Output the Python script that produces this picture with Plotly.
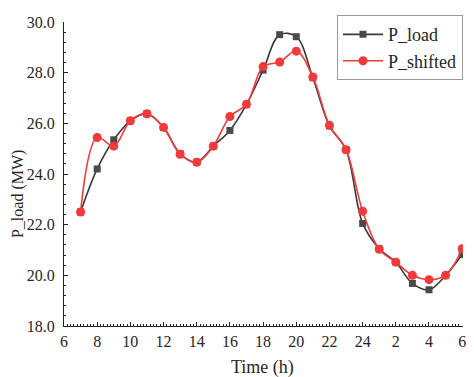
import plotly.graph_objects as go

hours = list(range(7, 31))
p_load = [22.5, 24.2, 25.35, 26.1, 26.38, 25.84, 24.8, 24.47, 25.1, 25.72, 26.75, 28.1,
          29.5, 29.42, 27.8, 25.9, 24.95, 22.05, 21.05, 20.52, 19.68, 19.43, 20.0, 20.82]
p_shifted = [22.5, 25.44, 25.1, 26.1, 26.38, 25.84, 24.78, 24.46, 25.1, 26.27, 26.75, 28.24,
             28.42, 28.85, 27.83, 25.92, 24.96, 22.53, 21.03, 20.52, 20.0, 19.83, 20.0, 21.05]
tick_vals = list(range(6, 31, 2))
tick_text = ["6", "8", "10", "12", "14", "16", "18", "20", "22", "24", "2", "4", "6"]
x_title = "Time (h)"
y_title = "P_load (MW)"

FONT = "Liberation Serif"
TXT = "#262626"
AX = "#222222"

W, H = 466, 369
L, R, T, B = 56, 11, 7, 51
PW, PH = W - L - R, H - T - B

fig = go.Figure()
fig.add_trace(go.Scatter(
    x=hours, y=p_load, name="P_load", mode="lines+markers",
    line=dict(color="#3a3a3a", width=1.6, shape="spline"),
    marker=dict(symbol="square", size=7, color="#4a4a4a"),
))
fig.add_trace(go.Scatter(
    x=hours, y=p_shifted, name="P_shifted", mode="lines+markers",
    line=dict(color="#f23a3a", width=1.6, shape="spline"),
    marker=dict(symbol="circle", size=9, color="#f23a3a"),
))

fig.update_layout(
    width=W, height=H,
    margin=dict(l=L, r=R, t=T, b=B),
    plot_bgcolor="white", paper_bgcolor="white",
    font=dict(family=FONT, size=16, color=TXT),
    showlegend=True,
    legend=dict(
        x=1.0, y=1.0 + T / PH, xanchor="right", yanchor="top",
        bordercolor="#9a9a9a", borderwidth=1, bgcolor="white",
        font=dict(family=FONT, size=18, color=TXT),
        tracegroupgap=0, itemwidth=40,
    ),
    xaxis=dict(
        range=[6, 30.05], tickmode="array", tickvals=tick_vals, ticktext=tick_text,
        showgrid=False, zeroline=False, showline=True, linecolor=AX, linewidth=1.2,
        ticks="inside", ticklen=4, tickcolor=AX, automargin=False,
        ticklabeloverflow="allow", ticklabelstandoff=1,
        minor=dict(dtick=0.2, tick0=6, ticks="inside", ticklen=2, tickcolor=AX, showgrid=False),
        tickfont=dict(family=FONT, size=16),
    ),
    yaxis=dict(
        range=[18, 30], tickmode="linear", tick0=18, dtick=2, tickformat=".1f",
        showgrid=False, zeroline=False, showline=True, linecolor=AX, linewidth=1.2,
        ticks="inside", ticklen=4, tickcolor=AX, automargin=False,
        ticklabeloverflow="allow", ticklabelstandoff=5,
        minor=dict(dtick=0.4, tick0=18, ticks="inside", ticklen=2, tickcolor=AX, showgrid=False),
        tickfont=dict(family=FONT, size=16),
    ),
    annotations=[
        dict(text=x_title, xref="paper", yref="paper",
             x=(254 - L) / PW, y=(T + PH - 360) / PH, xanchor="center", yanchor="middle",
             showarrow=False, font=dict(family=FONT, size=18, color=TXT)),
        dict(text=y_title, xref="paper", yref="paper", textangle=-90,
             x=(-1 - L) / PW, y=(T + PH - 183) / PH, xanchor="left", yanchor="middle",
             showarrow=False, font=dict(family=FONT, size=16, color=TXT)),
    ],
)

fig.write_html("out.html")
